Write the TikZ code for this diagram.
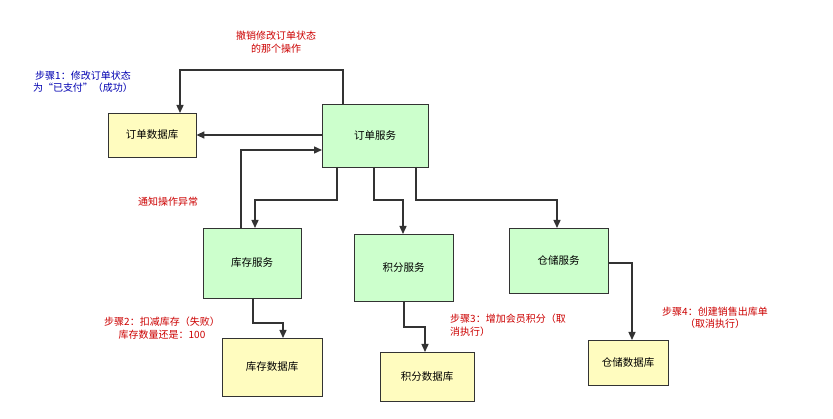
\documentclass[tikz,border=0pt]{standalone}
\usepackage{fontspec}
\setmainfont{Noto Sans CJK SC}
\usetikzlibrary{arrows.meta}
\begin{document}
\begin{tikzpicture}[x=1pt,y=-1pt,
 svc/.style={draw=black!80,fill=green!20,line width=0.8pt,minimum width=#1},
 db/.style={draw=black!80,fill=yellow!25,line width=0.8pt},
 con/.style={draw=black!80,line width=1.4pt,-{Triangle[length=8pt,width=7pt]}},
 lbl/.style={font=\fontsize{10}{12.5}\selectfont,align=center},
 every node/.style={font=\fontsize{10.5}{12}\selectfont}]
\useasboundingbox[fill=white] (0,0) rectangle (833,419);
\node[svc=106pt,minimum height=63pt] (o) at (375,135.5) {订单服务};
\node[db,minimum width=88pt,minimum height=44pt] (odb) at (152,135) {订单数据库};
\node[svc=98pt,minimum height=70pt] (k) at (252,263) {库存服务};
\node[svc=99pt,minimum height=67pt] (j) at (403.5,267.5) {积分服务};
\node[svc=99pt,minimum height=65pt] (c) at (558.5,260.5) {仓储服务};
\node[db,minimum width=100pt,minimum height=58pt] (kdb) at (272,367) {库存数据库};
\node[db,minimum width=94pt,minimum height=49pt] (jdb) at (427,376.5) {积分数据库};
\node[db,minimum width=80pt,minimum height=45pt] (cdb) at (628,362.5) {仓储数据库};
\draw[con] (o.west|-odb) -- (odb.east);
\draw[con] (343,104) -- (343,70) -- (180,70) -- (180,113);
\draw[con] (337,167) -- (337,200) -- (255,200) -- (255,228);
\draw[con] (241,228) -- (241,150) -- (322,150);
\draw[con] (374,167) -- (374,200) -- (403,200) -- (403,234);
\draw[con] (416,167) -- (416,200) -- (557,200) -- (557,228);
\draw[con] (253,298) -- (253,323) -- (283,323) -- (283,338);
\draw[con] (404,301) -- (404,327) -- (425,327) -- (425,352);
\draw[con] (608,263) -- (632,263) -- (632,340);
\node[lbl,text=blue!70!black] (l1) at (83,82) {步骤1：修改订单状态\\为“已支付”（成功）};
\node[lbl,text=red!80!black] (l2) at (276,42) {撤销修改订单状态\\的那个操作};
\node[lbl,text=red!80!black] (l3) at (168,202) {通知操作异常};
\node[lbl,text=red!80!black] (l4) at (162,328) {步骤2：扣减库存（失败）\\库存数量还是：100};
\node[lbl,text=red!80!black,align=left] (l5) at (508,325) {步骤3：增加会员积分（取\\消执行）};
\node[lbl,text=red!80!black] (l6) at (715,318) {步骤4：创建销售出库单\\（取消执行）};
\end{tikzpicture}
\end{document}
